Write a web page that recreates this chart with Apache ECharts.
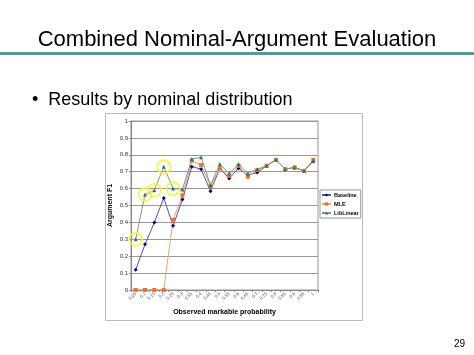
<!DOCTYPE html>
<html>
<head>
<meta charset="utf-8">
<script src="https://cdn.jsdelivr.net/npm/echarts@6/dist/echarts.min.js"></script>
<style>
  html, body { margin: 0; padding: 0; background: #fff; }
  #chart { width: 474px; height: 355px; }
</style>
</head>
<body>
<div id="chart"></div>
<script>
// x categories: observed markable probability
var categories = ['0.05', '0.1', '0.15', '0.2', '0.25', '0.3', '0.35', '0.4', '0.45', '0.5',
                  '0.55', '0.6', '0.65', '0.7', '0.75', '0.8', '0.85', '0.9', '0.95', '1'];
var baseline  = [0.12, 0.27, 0.40, 0.545, 0.38, 0.535, 0.73, 0.715, 0.585, 0.72,
                 0.66, 0.72, 0.68, 0.695, 0.735, 0.77, 0.715, 0.725, 0.705, 0.76];
var mle       = [0, 0, 0, 0, 0.415, 0.56, 0.765, 0.74, 0.615, 0.72,
                 0.675, 0.735, 0.67, 0.71, 0.735, 0.77, 0.715, 0.725, 0.705, 0.77];
var libLinear = [0.30, 0.565, 0.59, 0.73, 0.60, 0.595, 0.775, 0.785, 0.62, 0.745,
                 0.69, 0.745, 0.69, 0.715, 0.735, 0.77, 0.715, 0.725, 0.705, 0.765];
// LibLinear points circled in yellow on the slide
var circled = [0, 1, 2, 3, 4];

var myChart = echarts.init(document.getElementById('chart'));

var font = 'Liberation Sans, Arial, sans-serif';

var option = {
  animation: false,
  backgroundColor: '#fff',
  textStyle: { fontFamily: font },
  title: [
    {
      text: 'Combined Nominal-Argument Evaluation',
      left: 'center', top: 24,
      textStyle: { fontFamily: font, fontSize: 22, fontWeight: 'normal', color: '#000' }
    },
    {
      text: '•  Results by nominal distribution',
      left: 27, top: 86,
      textStyle: { fontFamily: font, fontSize: 18, fontWeight: 'normal', color: '#000' }
    },
    {
      text: '29',
      left: 449, top: 334,
      textStyle: { fontFamily: font, fontSize: 10, fontWeight: 'normal', color: '#000' }
    }
  ],
  graphic: [
    // teal rule under the slide title
    { type: 'rect', shape: { x: 0, y: 52, width: 474, height: 3 }, style: { fill: '#5f9494' }, z: -1 },
    // frame around the embedded chart
    { type: 'rect', shape: { x: 105.5, y: 113.5, width: 257, height: 207 },
      style: { fill: 'none', stroke: '#bbb', lineWidth: 1 }, z: -1 }
  ],
  legend: {
    data: ['Baseline', 'MLE', 'LibLinear'],
    orient: 'vertical',
    left: 320, top: 190,
    padding: [2, 2, 2, 1],
    itemGap: 3,
    itemWidth: 9, itemHeight: 4,
    borderColor: '#999', borderWidth: 1,
    textStyle: { fontFamily: font, fontSize: 5.5, fontWeight: 'bold', color: '#000', padding: [0, 0, 0, -2] }
  },
  grid: {
    left: 131, top: 121, width: 187, height: 169,
    show: true, borderColor: '#999', borderWidth: 1, backgroundColor: '#fff'
  },
  xAxis: {
    type: 'category',
    data: categories,
    name: 'Observed markable probability',
    nameLocation: 'middle', nameGap: 19,
    nameTextStyle: { fontFamily: font, fontSize: 7, fontWeight: 'bold', color: '#000' },
    axisLine: { lineStyle: { color: '#888' } },
    axisTick: { show: true, alignWithLabel: false, lineStyle: { color: '#888' }, length: 2 },
    axisLabel: { interval: 0, rotate: 45, fontSize: 4.5, color: '#555', margin: 3 }
  },
  yAxis: {
    type: 'value',
    min: 0, max: 1, interval: 0.1,
    name: 'Argument F1',
    nameLocation: 'middle', nameGap: 17,
    nameTextStyle: { fontFamily: font, fontSize: 7, fontWeight: 'bold', color: '#000' },
    axisLine: { show: true, lineStyle: { color: '#888' } },
    axisTick: { show: true, length: 2, lineStyle: { color: '#888' } },
    axisLabel: { fontSize: 6, color: '#333', margin: 3 },
    splitLine: { lineStyle: { color: '#999', width: 1 } }
  },
  series: [
    {
      name: 'Baseline', type: 'line', data: baseline,
      symbol: 'diamond', symbolSize: 4,
      itemStyle: { color: '#000080' },
      lineStyle: { color: '#4a55a8', width: 1 }
    },
    {
      name: 'MLE', type: 'line', data: mle,
      symbol: 'rect', symbolSize: 4,
      itemStyle: { color: '#f07030' },
      lineStyle: { color: '#f0a070', width: 1 }
    },
    {
      name: 'LibLinear', type: 'line', data: libLinear,
      symbol: 'triangle', symbolSize: 4,
      itemStyle: { color: '#2e7d4f' },
      lineStyle: { color: '#7a9a88', width: 1 }
    },
    {
      name: 'highlight', type: 'scatter',
      data: circled.map(function (i) { return [i, libLinear[i]]; }),
      symbol: 'circle', symbolSize: 13,
      itemStyle: { color: 'rgba(0,0,0,0)', borderColor: '#f2f23a', borderWidth: 2 },
      silent: true, z: 5
    }
  ]
};

myChart.setOption(option);
</script>
</body>
</html>
